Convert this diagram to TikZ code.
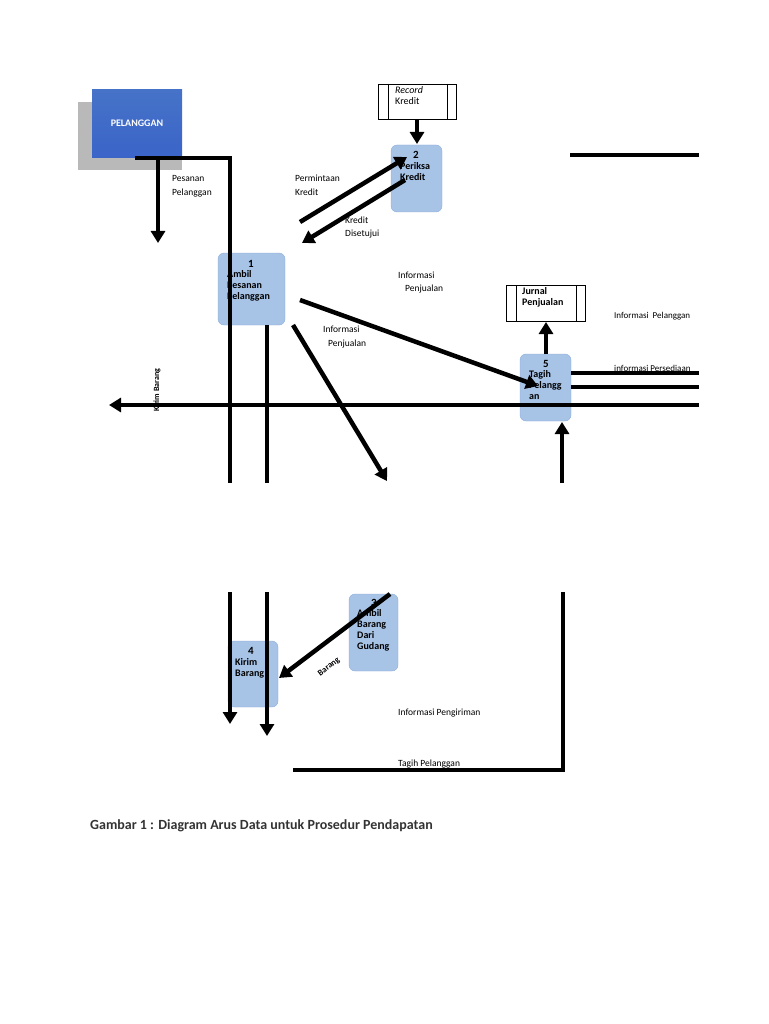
\documentclass[tikz,border=0pt]{standalone}
\usepackage{fontspec}
\setmainfont{Carlito}
\usetikzlibrary{arrows.meta}
\definecolor{pfill}{HTML}{A7C3E6}
\definecolor{pdraw}{HTML}{8EAEDB}
\begin{document}
\begin{tikzpicture}[x=1pt,y=-1pt,
  flow/.style={line width=4.5pt},
  arr/.style={flow,-{Triangle[length=12pt,width=14pt]}},
  proc/.style={draw=pdraw,fill=pfill,rounded corners=6pt},
  lbl/.style={anchor=west,font=\fontsize{9.5}{11}\selectfont,inner sep=0pt},
  ptxt/.style={anchor=north west,font=\fontsize{10}{11}\selectfont\bfseries,align=left,inner sep=0pt}]
\useasboundingbox (0,0) rectangle (768,1024);
\fill[gray!55] (78,102) rectangle (182,170);
\shade[top color={rgb,255:red,70;green,115;blue,200},bottom color={rgb,255:red,58;green,100;blue,200}] (92,90) rectangle (182,158);
\node[font=\fontsize{10}{10}\selectfont\bfseries,text=white] (pel) at (137,123) {PELANGGAN};
\draw (378,84) rectangle (456,119); \draw (388,84) -- (388,119); \draw (447,84) -- (447,119);
\node[ptxt,font=\fontsize{10}{11}\selectfont] (rk) at (395,86) {\textit{Record}\\Kredit};
\draw[proc] (391,145) rectangle (442,212);
\node[font=\fontsize{11}{11}\selectfont\bfseries] (p2) at (416,155) {2};
\node[ptxt] (p2t) at (400,162) {Periksa\\Kredit};
\draw[proc] (218,253) rectangle (285,325);
\node[font=\fontsize{11}{11}\selectfont\bfseries] (p1) at (251,264) {1};
\node[ptxt] (p1t) at (227,270) {Ambil\\Pesanan\\Pelanggan};
\draw (506,285) rectangle (585,321); \draw (516,285) -- (516,321); \draw (576,285) -- (576,321);
\node[ptxt] (jp) at (522,287) {Jurnal\\Penjualan};
\draw[proc] (520,354) rectangle (571,421);
\node[font=\fontsize{11}{11}\selectfont\bfseries] (p5) at (546,364) {5};
\node[ptxt] (p5t) at (529,370) {Tagih\\Pelangg\\an};
\draw[proc] (228,641) rectangle (278,707);
\node[font=\fontsize{11}{11}\selectfont\bfseries] (p4) at (251,651) {4};
\node[ptxt] (p4t) at (235,658) {Kirim\\Barang};
\draw[proc] (349,594) rectangle (398,671);
\node[font=\fontsize{11}{11}\selectfont\bfseries] (p3) at (374,603) {3};
\node[ptxt] (p3t) at (357,609) {Ambil\\Barang\\Dari\\Gudang};
\coordinate (pa) at (135,158); \coordinate (pb) at (230,158); \coordinate (pc) at (230,483);
\draw[flow] (pa) -- (pb) -- (pc);
\coordinate (s1) at (158,158); \coordinate (e1) at (158,243);
\draw[arr] (s1) -- (e1);
\node[lbl] (l1) at (172,178) {Pesanan};
\node[lbl] (l2) at (172,193) {Pelanggan};
\coordinate (rka) at (417,119); \coordinate (rkb) at (417,144);
\draw[arr] (rka) -- (rkb);
\coordinate (a1) at (300,222); \coordinate (b1) at (407,157);
\draw[arr] (a1) -- (b1);
\coordinate (a2) at (405,180); \coordinate (b2) at (302,243);
\draw[arr] (a2) -- (b2);
\node[lbl] at (295,178) {Permintaan};
\node[lbl] at (295,192) {Kredit};
\node[lbl] at (345,220) {Kredit};
\node[lbl] at (345,234) {Disetujui};
\draw[flow] (570,155) -- (699,155);
\node[lbl] at (398,275) {Informasi};
\node[lbl] at (405,289) {Penjualan};
\coordinate (a3) at (300,300); \coordinate (b3) at (538,386);
\draw[arr] (a3) -- (b3);
\node[lbl] at (323,329) {Informasi};
\node[lbl] at (328,344) {Penjualan};
\coordinate (a4) at (293,325); \coordinate (b4) at (387,481);
\draw[arr] (a4) -- (b4);
\draw[flow] (267,325) -- (267,483);
\coordinate (ja) at (546,354); \coordinate (jb) at (546,322);
\draw[arr] (ja) -- (jb);
\draw[flow] (571,373) -- (699,373);
\draw[flow] (571,387) -- (699,387);
\coordinate (kb1) at (699,405); \coordinate (kb2) at (109,405);
\draw[arr] (kb1) -- (kb2);
\node[lbl,font=\fontsize{9}{11}\selectfont] at (614,316) {Informasi\ \ Pelanggan};
\node[lbl,font=\fontsize{9}{11}\selectfont] at (614,368) {informasi Persediaan};
\coordinate (ta) at (562,483); \coordinate (tb) at (562,422);
\draw[arr] (ta) -- (tb);
\node[rotate=90,inner sep=0pt,font=\fontsize{8}{8}\selectfont\bfseries] at (157,390) {Kirim Barang};
\coordinate (c1) at (230,592); \coordinate (d1) at (230,724);
\draw[arr] (c1) -- (d1);
\coordinate (c2) at (267,592); \coordinate (d2) at (267,736);
\draw[arr] (c2) -- (d2);
\coordinate (a5) at (390,594); \coordinate (b5) at (279,678);
\draw[arr] (a5) -- (b5);
\node[font=\fontsize{8.5}{9}\selectfont\bfseries,rotate=37,inner sep=0pt] at (329,667) {Barang};
\node[lbl] at (398,713) {Informasi Pengiriman};
\draw[flow] (293,770) -- (563,770) -- (563,592);
\node[lbl,anchor=south west] at (398,768) {Tagih Pelanggan};
\node[anchor=west,inner sep=0pt,font=\fontsize{14}{16}\selectfont\bfseries,text=black!80] (cap) at (90,826) {Gambar 1 : Diagram Arus Data untuk Prosedur Pendapatan};
\end{tikzpicture}
\end{document}
